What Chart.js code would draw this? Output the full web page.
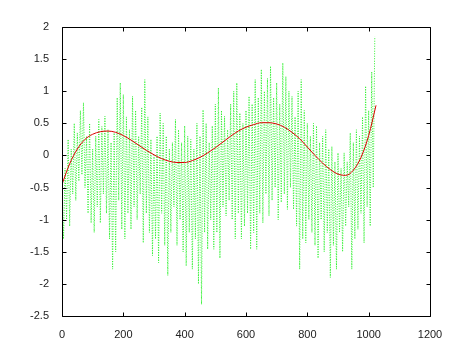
<!DOCTYPE html>
<html>
<head>
<meta charset="utf-8">
<script src="https://cdn.jsdelivr.net/npm/chart.js@4.4.1/dist/chart.umd.min.js"></script>
<style>
    html, body { margin: 0; padding: 0; background: #fff; }
    #wrap { width: 474px; height: 355px; }
</style>
</head>
<body>
<div id="wrap"><canvas id="plot" width="474" height="355"></canvas></div>
<script>
// noisy signal, one value every 5 samples
var sampleStep = 5;
var signalY = [
    -0.45, -1.3, -0.2, -1.0, 0.25, -1.1, 0.1, -0.6, 0.5, -0.7,
    0.35, -0.4, 0.7, -0.3, 0.82, -0.5, 0.3, -0.9, 0.5, -1.05,
    0.1, -1.2, 0.3, -0.8, 0.56, -1.05, 0.45, -0.6, 0.61, -0.9,
    0.4, -1.3, 0.2, -1.77, 0.35, -1.5, 0.9, -0.7, 1.13, -1.15,
    0.95, -1.3, 0.6, -0.9, 0.4, -1.15, 0.92, -0.8, 0.7, -1.0,
    0.3, -0.6, 0.75, -1.36, 1.18, -0.9, 0.6, -1.2, 0.25, -1.56,
    0.0, -1.3, 0.3, -1.67, 0.66, -0.9, 0.5, -1.4, 0.3, -1.87,
    0.1, -1.2, 0.2, -0.8, 0.56, -1.4, 0.4, -1.0, 0.2, -1.5,
    0.46, -1.72, 0.3, -1.2, 0.25, -1.77, 0.1, -1.3, 0.5, -2.0,
    0.3, -2.32, 0.71, -1.2, 0.5, -1.46, 0.2, -1.0, 0.46, -1.46,
    0.8, -1.2, 1.05, -1.6, 0.7, -0.8, 0.61, -0.94, 0.4, -0.7,
    0.8, -1.0, 1.0, -1.3, 1.13, -0.9, 0.66, -1.3, 0.5, -1.1,
    0.7, -0.9, 0.92, -1.46, 0.8, -1.2, 1.18, -1.46, 0.9, -0.9,
    1.34, -1.05, 1.0, -0.6, 1.2, -0.94, 1.39, -0.7, 0.9, -0.5,
    1.13, -1.0, 0.8, -0.73, 1.44, -0.6, 1.23, -0.84, 1.0, -0.5,
    0.92, -0.84, 0.6, -1.1, 1.0, -1.77, 1.18, -1.3, 0.7, -1.36,
    0.5, -1.0, 0.3, -1.2, 0.5, -1.4, 0.46, -1.6, 0.2, -1.0,
    0.3, -1.5, 0.4, -1.2, 0.1, -1.9, 0.14, -1.4, -0.1, -1.77,
    0.04, -1.2, -0.2, -1.5, 0.04, -1.1, -0.1, -0.8, 0.35, -1.77,
    0.2, -1.3, 0.4, -1.15, 0.3, -0.9, 0.6, -1.36, 1.08, -0.8,
    0.7, -1.1, 1.3, -0.5, 1.85
];

// smooth fitted curve
var fitX = [0, 25, 50, 75, 100, 125, 150, 175, 200, 225, 250, 275, 300, 325, 350,
    375, 400, 425, 450, 475, 500, 525, 550, 575, 600, 625, 650, 675, 700, 725,
    750, 775, 800, 825, 850, 875, 900, 925, 950, 975, 1000, 1024];
var fitY = [-0.45, -0.13, 0.10, 0.25, 0.33, 0.37, 0.38, 0.36, 0.31, 0.24, 0.16, 0.08, 0.01, -0.05, -0.09,
    -0.11, -0.11, -0.08, -0.03, 0.04, 0.12, 0.21, 0.30, 0.38, 0.44, 0.48, 0.51, 0.51, 0.49, 0.44,
    0.36, 0.26, 0.13, 0.0, -0.12, -0.22, -0.29, -0.31, -0.23, -0.03, 0.31, 0.78];

var xTicks = [0, 200, 400, 600, 800, 1000, 1200];
var yTicks = [-2.5, -2, -1.5, -1, -0.5, 0, 0.5, 1, 1.5, 2];

var signalPoints = signalY.map((v, i) => ({ x: i * sampleStep, y: v }));
var fitPoints = fitX.map((v, i) => ({ x: v, y: fitY[i] }));

// box round the axes and inward tick marks, matlab style
var boxTicks = {
    id: "boxTicks",
    afterDatasetsDraw(chart) {
        const { ctx, chartArea: a, scales: { x, y } } = chart;
        const L = Math.round(a.left) + 0.5, R = Math.round(a.right) + 0.5;
        const T = Math.round(a.top) + 0.5, B = Math.round(a.bottom) + 0.5;
        ctx.save();
        ctx.strokeStyle = "#000";
        ctx.lineWidth = 1;
        ctx.beginPath();
        ctx.rect(L, T, R - L, B - T);
        xTicks.forEach(v => {
            const px = Math.round(x.getPixelForValue(v)) + 0.5;
            ctx.moveTo(px, B); ctx.lineTo(px, B - 4);
            ctx.moveTo(px, T); ctx.lineTo(px, T + 4);
        });
        yTicks.forEach(v => {
            const py = Math.round(y.getPixelForValue(v)) + 0.5;
            ctx.moveTo(L, py); ctx.lineTo(L + 4, py);
            ctx.moveTo(R, py); ctx.lineTo(R - 4, py);
        });
        ctx.stroke();
        ctx.restore();
    }
};

var ctx = document.getElementById("plot").getContext("2d");
var chart = new Chart(ctx, {
    type: "line",
    data: {
        datasets: [
            {
                data: fitPoints,
                borderColor: "#dd0000",
                borderWidth: 1,
                pointRadius: 0,
                cubicInterpolationMode: "monotone",
                order: 0
            },
            {
                data: signalPoints,
                borderColor: "#2ef02e",
                borderWidth: 1,
                borderDash: [1, 1.5],
                pointRadius: 0,
                tension: 0,
                order: 1
            }
        ]
    },
    options: {
        responsive: false,
        animation: false,
        events: [],
        layout: { padding: { top: 27, right: 44, left: 0, bottom: 0 } },
        plugins: { legend: { display: false }, tooltip: { enabled: false } },
        scales: {
            x: {
                type: "linear",
                min: 0,
                max: 1200,
                afterFit: s => { s.height = 39; },
                afterBuildTicks: s => { s.ticks = xTicks.map(v => ({ value: v })); },
                grid: { display: false },
                border: { display: false },
                ticks: {
                    padding: 4,
                    color: "#222",
                    font: { family: "Liberation Sans", size: 11 },
                    callback: v => String(v)
                }
            },
            y: {
                type: "linear",
                min: -2.5,
                max: 2,
                afterFit: s => { s.width = 62; },
                afterBuildTicks: s => { s.ticks = yTicks.map(v => ({ value: v })); },
                grid: { display: false },
                border: { display: false },
                ticks: {
                    padding: 5,
                    color: "#222",
                    font: { family: "Liberation Sans", size: 11 },
                    callback: v => String(v)
                }
            }
        }
    },
    plugins: [boxTicks]
});
</script>
</body>
</html>
